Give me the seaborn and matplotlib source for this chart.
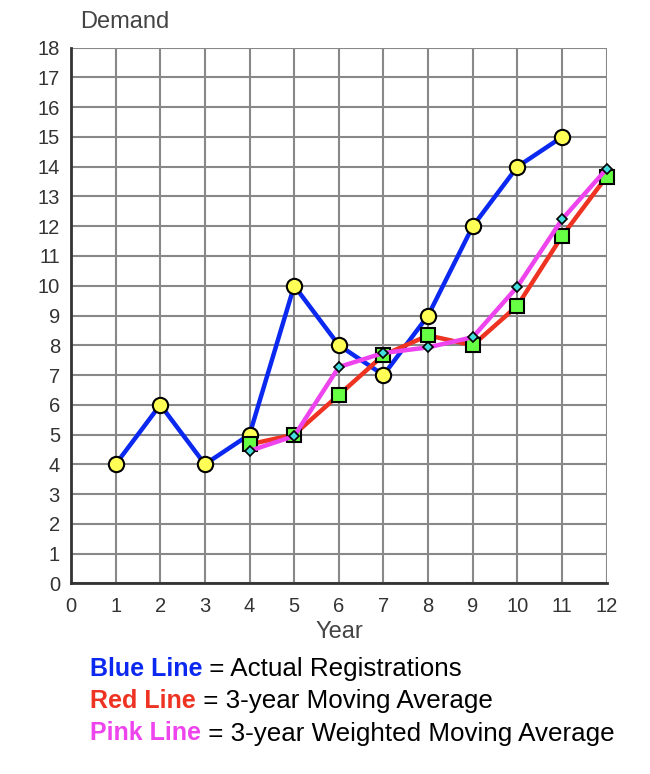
import pandas as pd
import seaborn as sns
import matplotlib.pyplot as plt

# values
years_actual = [1, 2, 3, 4, 5, 6, 7, 8, 9, 10, 11]
actual = [4, 6, 4, 5, 10, 8, 7, 9, 12, 14, 15]

years_avg = [4, 5, 6, 7, 8, 9, 10, 11, 12]
moving_avg = [4.67, 5.0, 6.33, 7.67, 8.33, 8.0, 9.33, 11.67, 13.67]
weighted_avg = [4.45, 4.95, 7.27, 7.74, 7.93, 8.27, 9.97, 12.23, 13.93]

x_ticks = list(range(0, 13))
y_ticks = list(range(0, 19))

sns.set_style('white')
plt.rcParams['font.family'] = ['Liberation Sans', 'DejaVu Sans']

df_actual = pd.DataFrame({'Year': years_actual, 'Demand': actual})
df_ma = pd.DataFrame({'Year': years_avg, 'Demand': moving_avg})
df_wma = pd.DataFrame({'Year': years_avg, 'Demand': weighted_avg})

fig = plt.figure(figsize=(6.5, 7.74), dpi=100)
ax = fig.add_axes([71 / 650, 1 - 583.3 / 774, (606.7 - 71) / 650, (583.3 - 47.7) / 774])

sns.lineplot(data=df_actual, x='Year', y='Demand', ax=ax, color='#0a28f0', lw=3.2,
             marker='o', ms=11, markerfacecolor='#ffff55', markeredgecolor='black',
             markeredgewidth=1.5, clip_on=False, zorder=3)
sns.lineplot(data=df_ma, x='Year', y='Demand', ax=ax, color='#ee3322', lw=3.2,
             marker='s', ms=10, markerfacecolor='#66ff44', markeredgecolor='black',
             markeredgewidth=1.5, clip_on=False, zorder=4)
sns.lineplot(data=df_wma, x='Year', y='Demand', ax=ax, color='#ee44ee', lw=3.2,
             marker='D', ms=5.5, markerfacecolor='#44dddd', markeredgecolor='black',
             markeredgewidth=1.2, clip_on=False, zorder=5)

ax.set_xlim(0, 12)
ax.set_ylim(0, 18)
ax.set_xticks(x_ticks)
ax.set_yticks(y_ticks)
ax.grid(True, color='#888888', lw=1.5)
ax.set_axisbelow(True)
ax.set_xlabel('')
ax.set_ylabel('')

for side in ['top', 'right']:
    ax.spines[side].set_visible(False)
for side in ['left', 'bottom']:
    ax.spines[side].set_color('#333333')
    ax.spines[side].set_linewidth(2)

ax.tick_params(axis='y', direction='out', length=6.5, width=1.5, color='#333333',
               labelcolor='#333333', labelsize=14.5, pad=1.5)
ax.tick_params(axis='x', direction='out', length=6, width=1.5, color='#333333',
               labelcolor='#333333', labelsize=14.5, pad=4)

fig.text(80 / 650, 1 - 22 / 774, 'Demand', fontsize=17, color='#444444', va='center')
fig.text(339 / 650, 1 - 632 / 774, 'Year', fontsize=17, color='#444444', va='center', ha='center')

legend_rows = [
    ('Blue Line', '#0a28f0', ' = Actual Registrations', 669),
    ('Red Line', '#ee3322', ' = 3-year Moving Average', 701),
    ('Pink Line', '#ee44ee', ' = 3-year Weighted Moving Average', 733.5),
]
for label, col, desc, ypix in legend_rows:
    t = fig.text(90 / 650, 1 - ypix / 774, label, fontsize=18, fontweight='bold',
                 color=col, va='center')
    plt.annotate(desc, xy=(1, 0.5), xycoords=t, va='center', fontsize=18.7, color='black')

fig.savefig('out.png', dpi=100)
